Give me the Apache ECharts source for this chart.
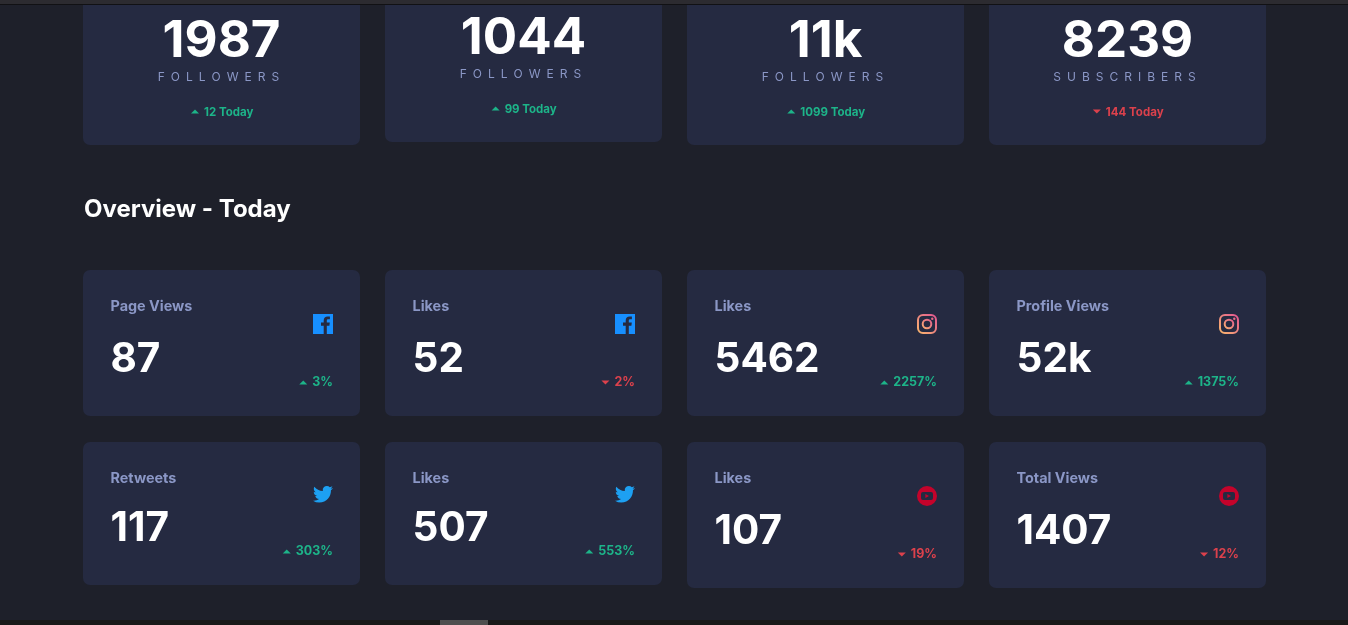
<!DOCTYPE html>
<html>
<head>
<meta charset="utf-8">
<title>Social media dashboard</title>
<style>
html, body { margin: 0; padding: 0; background: #1e202a; overflow: hidden; }
#main { width: 1348px; height: 625px; }
</style>
<script src="https://cdn.jsdelivr.net/npm/echarts@6/dist/echarts.min.js"></script>
</head>
<body>
<div id="main"></div>
<script>
var topValues = ['1987', '1044', '11k', '8239'];
var topLabels = ['FOLLOWERS', 'FOLLOWERS', 'FOLLOWERS', 'SUBSCRIBERS'];
var topDeltas = [12, 99, 1099, 144];
var topDirections = ['up', 'up', 'up', 'down'];

var overviewTitle = 'Overview - Today';
var overviewLabels = ['Page Views', 'Likes', 'Likes', 'Profile Views', 'Retweets', 'Likes', 'Likes', 'Total Views'];
var overviewValues = ['87', '52', '5462', '52k', '117', '507', '107', '1407'];
var overviewDeltas = [3, 2, 2257, 1375, 303, 553, 19, 12];
var overviewDirections = ['up', 'down', 'up', 'up', 'up', 'up', 'down', 'down'];
var overviewNetworks = ['facebook', 'facebook', 'instagram', 'instagram', 'twitter', 'twitter', 'youtube', 'youtube'];

var TWITTER_PATH = 'M23.953 4.57a10 10 0 0 1-2.825.775a4.958 4.958 0 0 0 2.163-2.723c-.951.555-2.005.959-3.127 1.184a4.92 4.92 0 0 0-8.384 4.482C7.69 8.095 4.067 6.13 1.64 3.162a4.822 4.822 0 0 0-.666 2.475c0 1.71.87 3.213 2.188 4.096a4.904 4.904 0 0 1-2.228-.616v.06a4.923 4.923 0 0 0 3.946 4.827a4.996 4.996 0 0 1-2.212.085a4.936 4.936 0 0 0 4.604 3.417a9.867 9.867 0 0 1-6.102 2.105c-.39 0-.779-.023-1.17-.067a13.995 13.995 0 0 0 7.557 2.209c9.053 0 13.998-7.496 13.998-13.985c0-.21 0-.42-.015-.63A9.935 9.935 0 0 0 24 4.59z';
var FB_F_PATH = 'M10.7 20V11.7H8V8.6H10.7V6.4C10.7 3.8 12.3 2.4 14.6 2.4C15.7 2.4 16.6 2.5 16.9 2.5V5.2H15.3C14 5.2 13.8 5.8 13.8 6.7V8.6H16.8L16.4 11.7H13.8V20Z';

var FONT = 'Inter, "Noto Sans", sans-serif';
var colors = { bg: '#1e202a', card: '#252a41', muted: '#8b97c6', white: '#ffffff', up: '#1db489', down: '#dc414c', red: '#c4032b', fb: '#178fff', tw: '#1da0f2' };

var colX = [83, 385, 687, 989];
var CARD_W = 277;
var measureCtx = document.createElement('canvas').getContext('2d');

function textWidth(str, font) {
    measureCtx.font = font;
    return measureCtx.measureText(str).width;
}

function spaced(str) {
    return str.split('').join('\u2002');
}

function card(x, y, h) {
    return { type: 'rect', shape: { x: x, y: y, width: CARD_W, height: h, r: 7 }, style: { fill: colors.card } };
}

function label(str, x, y, size, weight, fill, align) {
    return { type: 'text', x: x, y: y, style: {
        text: str, fill: fill, font: weight + ' ' + size + 'px ' + FONT,
        align: align || 'left', verticalAlign: 'middle'
    } };
}

function triangle(x, y, dir) {
    var pts = dir === 'up' ? [[x, y + 2], [x + 8, y + 2], [x + 4, y - 2]] : [[x, y - 2], [x + 8, y - 2], [x + 4, y + 2]];
    return { type: 'polygon', shape: { points: pts }, style: { fill: dir === 'up' ? colors.up : colors.down } };
}

function pathIcon(pathData, x, y, w, h, fill) {
    return { type: 'path', shape: { pathData: pathData, layout: 'cover', x: x, y: y, width: w, height: h }, style: { fill: fill } };
}

function facebookIcon(x, y) {
    return [
        { type: 'rect', shape: { x: x, y: y, width: 20, height: 20 }, style: { fill: colors.fb } },
        pathIcon(FB_F_PATH, x + 8, y + 2.4, 8.9, 17.6, colors.card)
    ];
}

function instagramIcon(x, y) {
    var grad = new echarts.graphic.LinearGradient(0, 1, 1, 0, [
        { offset: 0, color: '#fdc468' }, { offset: 1, color: '#df4996' }
    ]);
    return [
        { type: 'rect', shape: { x: x + 1, y: y + 1, width: 18, height: 18, r: 5 }, style: { fill: 'none', stroke: grad, lineWidth: 2 } },
        { type: 'circle', shape: { cx: x + 10, cy: y + 10, r: 4.3 }, style: { fill: 'none', stroke: grad, lineWidth: 2 } },
        { type: 'circle', shape: { cx: x + 15.3, cy: y + 4.7, r: 1.2 }, style: { fill: '#e9698a' } }
    ];
}

function youtubeIcon(x, y) {
    return [
        { type: 'circle', shape: { cx: x + 10, cy: y + 10, r: 10 }, style: { fill: colors.red } },
        { type: 'rect', shape: { x: x + 4, y: y + 6, width: 12, height: 8, r: 2 }, style: { fill: colors.card } },
        { type: 'polygon', shape: { points: [[x + 8.4, y + 8], [x + 12, y + 10], [x + 8.4, y + 12]] }, style: { fill: colors.red } }
    ];
}

function networkIcon(name, x, y) {
    if (name === 'facebook') return facebookIcon(x, y);
    if (name === 'instagram') return instagramIcon(x, y);
    if (name === 'twitter') return [pathIcon(TWITTER_PATH, x, y, 20, 16.5, colors.tw)];
    return youtubeIcon(x, y);
}

var els = [];

// top row
var topShift = [0, -3, 0, 0];
topValues.forEach(function (v, i) {
    var x = colX[i], s = topShift[i], cx = x + CARD_W / 2;
    els.push(card(x, -10, 155 + s));
    els.push(label(v, cx, 42 + s, 51, 700, colors.white, 'center'));
    els.push(label(spaced(topLabels[i]), cx - 3, 77.5 + s, 12, 400, colors.muted, 'center'));
    var str = topDeltas[i] + ' Today';
    var w = textWidth(str, '700 11.5px ' + FONT);
    var left = cx - (w + 13) / 2 + 0.7;
    els.push(triangle(left, 111.5 + s, topDirections[i]));
    els.push(label(str, left + 13, 112.5 + s, 11.5, 700, topDirections[i] === 'up' ? colors.up : colors.down));
});

els.push(label(overviewTitle, 84, 209.5, 24, 700, colors.white));

// overview cards
var rowTop = [270, 442];
var rowHeight = [[146, 146, 146, 146], [143, 143, 146, 146]];
var rowShift = [[0, 0, 0, 0], [-3, -3, 0, 0]];
var iconTop = [[44, 44, 44, 44], [44, 44, 44, 44]];
overviewValues.forEach(function (v, i) {
    var row = Math.floor(i / 4), col = i % 4;
    var x = colX[col], y = rowTop[row], h = rowHeight[row][col], s = rowShift[row][col];
    var right = x + CARD_W - 27;
    els.push(card(x, y, h));
    els.push(label(overviewLabels[i], x + 27.5, y + 37, 14.4, 700, colors.muted));
    els.push(label(v, x + 27.5, y + 90 + s, 40.5, 700, colors.white));
    networkIcon(overviewNetworks[i], x + 230, y + iconTop[row][col]).forEach(function (e) { els.push(e); });
    var str = overviewDeltas[i] + '%';
    var font = '700 12.5px ' + FONT;
    var w = textWidth(str, font);
    var dy = y + 112.5 + s;
    els.push(label(str, right, dy, 12.5, 700, overviewDirections[i] === 'up' ? colors.up : colors.down, 'right'));
    els.push(triangle(right - w - 13, dy, overviewDirections[i]));
});

// browser strip on top and window scrollbar at the bottom
els.push({ type: 'rect', shape: { x: 0, y: 0, width: 1348, height: 4 }, style: { fill: '#2c2b30' } });
els.push({ type: 'rect', shape: { x: 0, y: 4, width: 1348, height: 1 }, style: { fill: '#111114' } });
els.push({ type: 'rect', shape: { x: 0, y: 620, width: 1348, height: 5 }, style: { fill: '#191919' } });
els.push({ type: 'rect', shape: { x: 440, y: 620, width: 48, height: 5 }, style: { fill: '#4f4f4f' } });

var chart = echarts.init(document.getElementById('main'));
chart.setOption({
    backgroundColor: colors.bg,
    animation: false,
    series: [{
        type: 'custom',
        coordinateSystem: 'none',
        silent: true,
        clip: false,
        data: els.map(function (e, i) { return i; }),
        renderItem: function (params) {
            return els[params.dataIndex];
        }
    }]
});
</script>
</body>
</html>
